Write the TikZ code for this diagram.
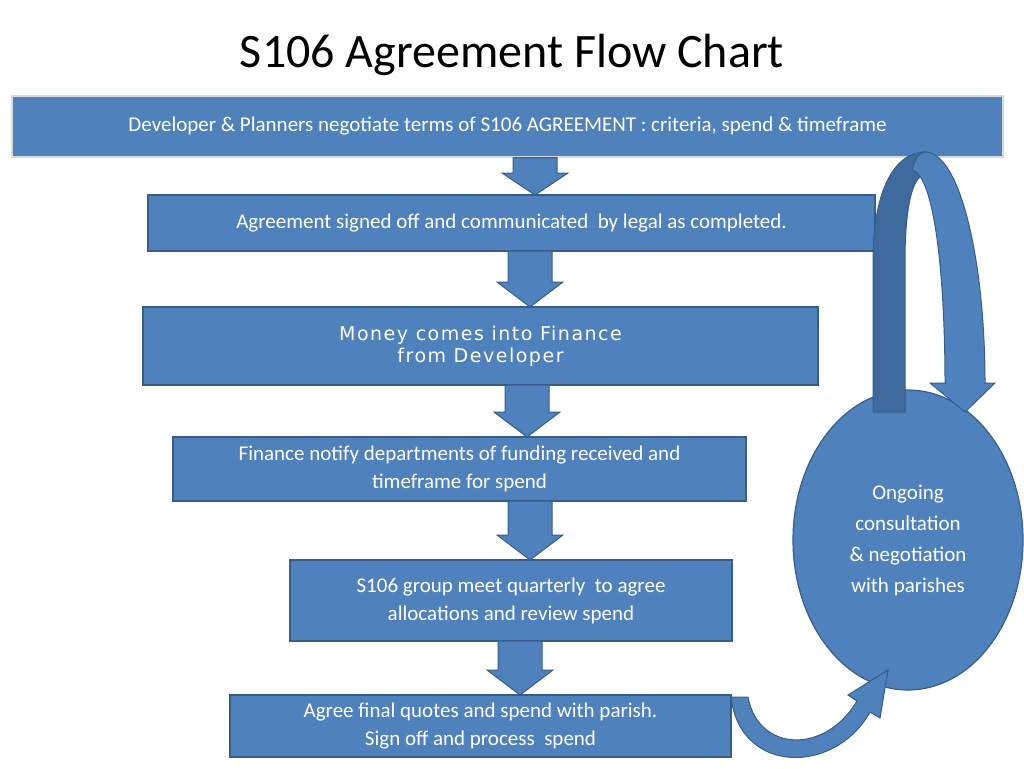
\documentclass[tikz,border=0pt]{standalone}
\usepackage{fontspec}
\usetikzlibrary{shapes.geometric}
\setmainfont{Carlito}
\newfontfamily\wide{DejaVu Sans}[LetterSpace=8]
\definecolor{bfill}{HTML}{4F81BD}
\definecolor{bdraw}{HTML}{385D8A}
\definecolor{bdark}{HTML}{3F6A9E}
\begin{document}
\begin{tikzpicture}[x=1pt,y=-1pt,
  box/.style={draw=bdraw,line width=1.2pt,fill=bfill,text=white,align=center,inner sep=0pt,font=\fontsize{21}{28}\selectfont},
  arr/.style={draw=bdraw,line width=1pt,fill=bfill}]
\useasboundingbox (0,0) rectangle (1024,768);
\node[font=\fontsize{48}{56}\selectfont] (title) at (512,55) {S106 Agreement Flow Chart};
\node[box,draw=white!85!black,line width=2pt,minimum width=991,minimum height=61] (b1) at (507.5,126.5) {Developer \& Planners negotiate terms of S106 AGREEMENT : criteria, spend \& timeframe};
\node[box,minimum width=727,minimum height=56] (b2) at (511.5,223) {Agreement signed off and communicated\ \ by legal as completed.};
\node[box,minimum width=675,minimum height=78,font=\wide\fontsize{19}{22}\selectfont] (b3) at (480.5,346) {Money comes into Finance\\from Developer};
\node[box,minimum width=573,minimum height=64] (b4) at (459.5,469) {Finance notify departments of funding received and\\timeframe for spend};
\node[box,minimum width=442,minimum height=81] (b5) at (511,600.5) {S106 group meet quarterly\ \ to agree\\allocations and review spend};
\node[box,minimum width=501,minimum height=62] (b6) at (480.5,726) {Agree final quotes and spend with parish.\\Sign off and process\ \ spend};
\node[draw=bdraw,line width=1.2pt,fill=bfill,ellipse,minimum width=230,minimum height=300,inner sep=0pt,text=white,align=center,font=\fontsize{21}{31}\selectfont] (e) at (908,540) {Ongoing\\consultation\\\& negotiation\\with parishes};
% down block arrows
\foreach \x/\ya/\yb/\h in {535/157.5/195/22, 530/251/307/25, 527/385/437/25, 530/501/560/25, 520/641/695/25}{
  \draw[arr] (\x-22,\ya) -- (\x+22,\ya) -- (\x+22,\yb-\h) -- (\x+33,\yb-\h) -- (\x,\yb) -- (\x-33,\yb-\h) -- (\x-22,\yb-\h) -- cycle;
}
% top loop arrow
\draw[arr,fill=bdark] (873,412) -- (873,260) .. controls (873,190) and (895,152) .. (925,152) -- (925,175) .. controls (912,175) and (905,210) .. (905,260) -- (905,412) -- cycle;
\draw[arr] (925,152) .. controls (960,152) and (985,260) .. (985,383) -- (995,383) -- (965,412) -- (930,383) -- (945,383) .. controls (945,280) and (935,175) .. (912,170) .. controls (915,158) and (920,152) .. (925,152) -- cycle;
% bottom arrow
\draw[arr] (731,697) .. controls (740,775) and (835,775) .. (870,712) -- (880,718) -- (888,670) -- (848,695) -- (857,701) .. controls (825,755) and (758,752) .. (748,697) -- cycle;
\end{tikzpicture}
\end{document}
